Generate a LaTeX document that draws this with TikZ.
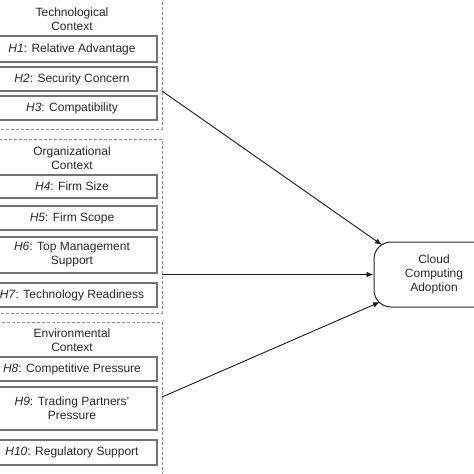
\documentclass[tikz,border=0pt]{standalone}
\usepackage{fontspec}
\setmainfont{Liberation Sans}
\usetikzlibrary{arrows.meta}
\begin{document}
\begin{tikzpicture}[x=1pt,y=-1pt,
  every node/.style={font=\fontsize{12}{14}\selectfont, text=black!85, align=center, inner sep=0pt},
  hbox/.style={draw=black!55, line width=1.6pt, minimum width=170pt},
  grp/.style={draw=black!45, dashed, line width=0.7pt, dash pattern=on 3pt off 2pt},
  cloudbox/.style={draw=black!85, line width=1pt, rounded corners=17pt, minimum width=120pt, minimum height=65pt},
  conn/.style={draw=black!90, line width=0.9pt, -{Latex[length=7pt,width=5.5pt]}}
]
\useasboundingbox (0,0) rectangle (474,474);
% groups
\draw[grp] (-25,-5) rectangle (162,129);
\draw[grp] (-25,139) rectangle (162,313);
\draw[grp] (-25,322) rectangle (162,485);
\node (t1) at (72,19) {Technological\\Context};
\node (t2) at (72,158) {Organizational\\Context};
\node (t3) at (72,340) {Environmental\\Context};
% factor boxes
\node[hbox, minimum height=26pt] (h1) at (72,49) {\textit{H1}: Relative Advantage};
\node[hbox, minimum height=24pt] (h2) at (72,79) {\textit{H2}: Security Concern};
\node[hbox, minimum height=24pt] (h3) at (72,108) {\textit{H3}: Compatibility};
\node[hbox, minimum height=23pt] (h4) at (72,186.5) {\textit{H4}: Firm Size};
\node[hbox, minimum height=24pt] (h5) at (72,218) {\textit{H5}: Firm Scope};
\node[hbox, minimum height=36pt] (h6) at (72,255) {\textit{H6}: Top Management\\Support};
\node[hbox, minimum height=24pt] (h7) at (72,295) {\textit{H7}: Technology Readiness};
\node[hbox, minimum height=24pt] (h8) at (72,369) {\textit{H8}: Competitive Pressure};
\node[hbox, minimum height=43pt] (h9) at (72,408.5) {\textit{H9}: Trading Partners'\\Pressure};
\node[hbox, minimum height=25pt] (h10) at (72,452.5) {\textit{H10}: Regulatory Support};
% outcome
\node[cloudbox] (cca) at (434,274.5) {Cloud\\Computing\\Adoption};
% connector endpoints
\coordinate (s1) at (162,91);
\coordinate (s2) at (162,274.5);
\coordinate (s3) at (162,397);
\coordinate (e1) at (382,245);
\coordinate (e3) at (380,302);
\draw[conn] (s1) -- (e1);
\draw[conn] (s2) -- (cca.west);
\draw[conn] (s3) -- (e3);
\end{tikzpicture}
\end{document}
